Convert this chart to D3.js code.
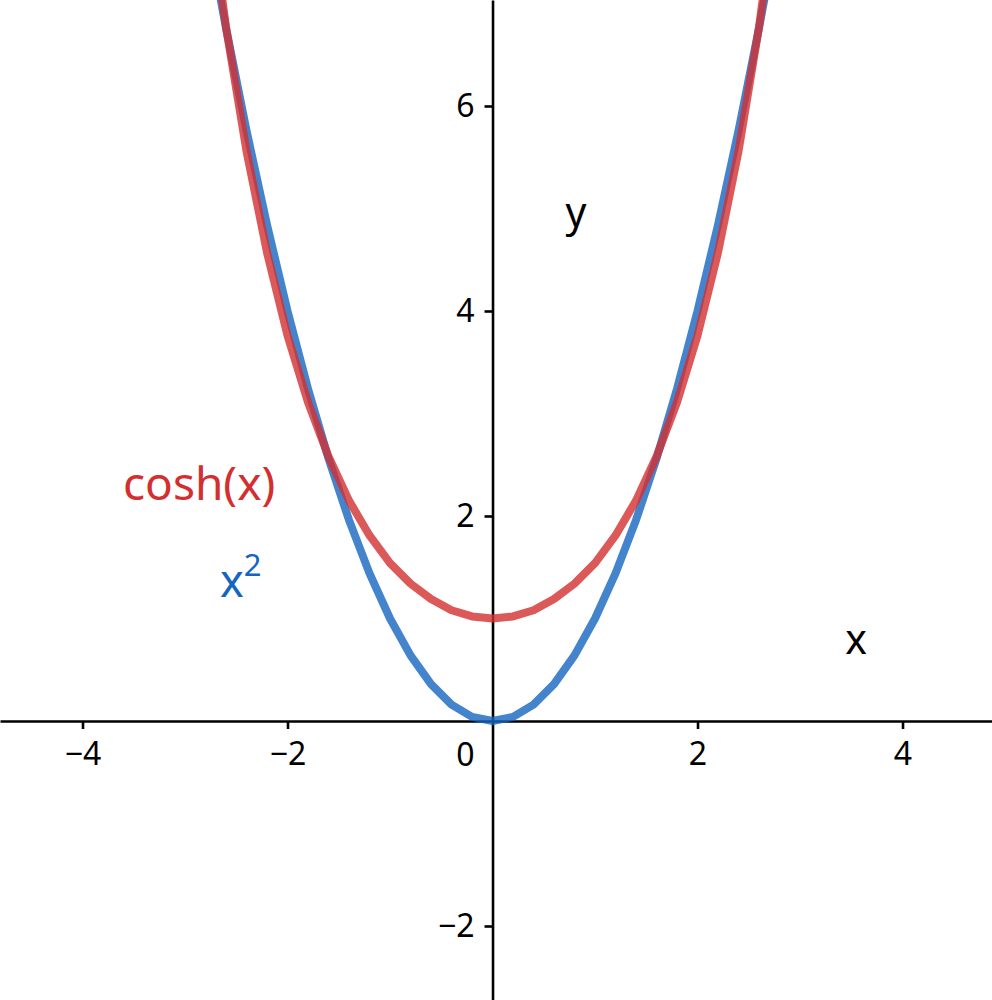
<!DOCTYPE html>
<html>
<head>
<meta charset="utf-8">
<script src="https://cdn.jsdelivr.net/npm/d3@7"></script>
<style>
  html, body { margin: 0; padding: 0; background: #fff; }
  svg { display: block; }
  .axis text { font-family: "Noto Sans", sans-serif; font-size: 32px; fill: #000; }
  .lbl { font-family: "Noto Sans", sans-serif; }
</style>
</head>
<body>
<div id="chart"></div>
<script>
// sample points
var xs       = [-2.8, -2.6, -2.4, -2.2, -2.0, -1.8, -1.6, -1.4, -1.2, -1.0, -0.8, -0.6, -0.4, -0.2, 0,
                 0.2, 0.4, 0.6, 0.8, 1.0, 1.2, 1.4, 1.6, 1.8, 2.0, 2.2, 2.4, 2.6, 2.8];
var cosh_vals = [8.25, 6.77, 5.56, 4.57, 3.76, 3.11, 2.58, 2.15, 1.81, 1.54, 1.34, 1.19, 1.08, 1.02, 1.0,
                 1.02, 1.08, 1.19, 1.34, 1.54, 1.81, 2.15, 2.58, 3.11, 3.76, 4.57, 5.56, 6.77, 8.25];
var sq_vals   = [7.84, 6.76, 5.76, 4.84, 4.0, 3.24, 2.56, 1.96, 1.44, 1.0, 0.64, 0.36, 0.16, 0.04, 0,
                 0.04, 0.16, 0.36, 0.64, 1.0, 1.44, 1.96, 2.56, 3.24, 4.0, 4.84, 5.76, 6.76, 7.84];
var x_ticks = [-4, -2, 2, 4];
var y_ticks = [-2, 2, 4, 6];

var width = 992, height = 1000;

var x = d3.scaleLinear().domain([-4.805, 4.873]).range([0, width]);
var y = d3.scaleLinear().domain([-2.722, 7.034]).range([height, 0]);

var svg = d3.select("#chart").append("svg")
  .attr("width", width)
  .attr("height", height);

// axes
var gx = svg.append("g")
  .attr("class", "axis")
  .attr("transform", "translate(0," + y(0) + ")")
  .call(d3.axisBottom(x).tickValues(x_ticks).tickSize(8).tickSizeOuter(0).tickPadding(13));

var gy = svg.append("g")
  .attr("class", "axis")
  .attr("transform", "translate(" + x(0) + ",0)")
  .call(d3.axisLeft(y).tickValues(y_ticks).tickSize(8).tickSizeOuter(0).tickPadding(10));

svg.selectAll(".axis .domain").attr("stroke", "#000").attr("stroke-width", 2.6);
svg.selectAll(".axis .tick line").attr("stroke", "#000").attr("stroke-width", 2.6);

// origin label
svg.append("text")
  .attr("class", "lbl")
  .attr("x", x(0) - 27)
  .attr("y", y(0) + 45)
  .attr("text-anchor", "middle")
  .style("font-size", "32px")
  .text("0");

var line = d3.line()
  .x(function(d) { return x(d[0]); })
  .y(function(d) { return y(d[1]); });

var sq_data = xs.map(function(v, i) { return [v, sq_vals[i]]; });
var cosh_data = xs.map(function(v, i) { return [v, cosh_vals[i]]; });

svg.append("path")
  .datum(sq_data)
  .attr("d", line)
  .attr("fill", "none")
  .attr("stroke", "#1565C0")
  .attr("stroke-opacity", 0.8)
  .attr("stroke-width", 8)
  .attr("stroke-linejoin", "round");

svg.append("path")
  .datum(cosh_data)
  .attr("d", line)
  .attr("fill", "none")
  .attr("stroke", "#D32F2F")
  .attr("stroke-opacity", 0.8)
  .attr("stroke-width", 8)
  .attr("stroke-linejoin", "round");

// axis names
svg.append("text").attr("class", "lbl")
  .attr("x", 576).attr("y", 227)
  .attr("text-anchor", "middle")
  .style("font-size", "41px")
  .text("y");

svg.append("text").attr("class", "lbl")
  .attr("x", 856).attr("y", 654)
  .attr("text-anchor", "middle")
  .style("font-size", "41px")
  .text("x");

// curve captions
svg.append("text").attr("class", "lbl")
  .attr("x", 123).attr("y", 500)
  .style("font-size", "46px")
  .attr("fill", "#D32F2F")
  .text("cosh(x)");

var sqLbl = svg.append("text").attr("class", "lbl")
  .attr("x", 220).attr("y", 597)
  .style("font-size", "45px")
  .attr("fill", "#1565C0");
sqLbl.append("tspan").text("x");
sqLbl.append("tspan").attr("dy", -21).style("font-size", "31px").text("2");
</script>
</body>
</html>
